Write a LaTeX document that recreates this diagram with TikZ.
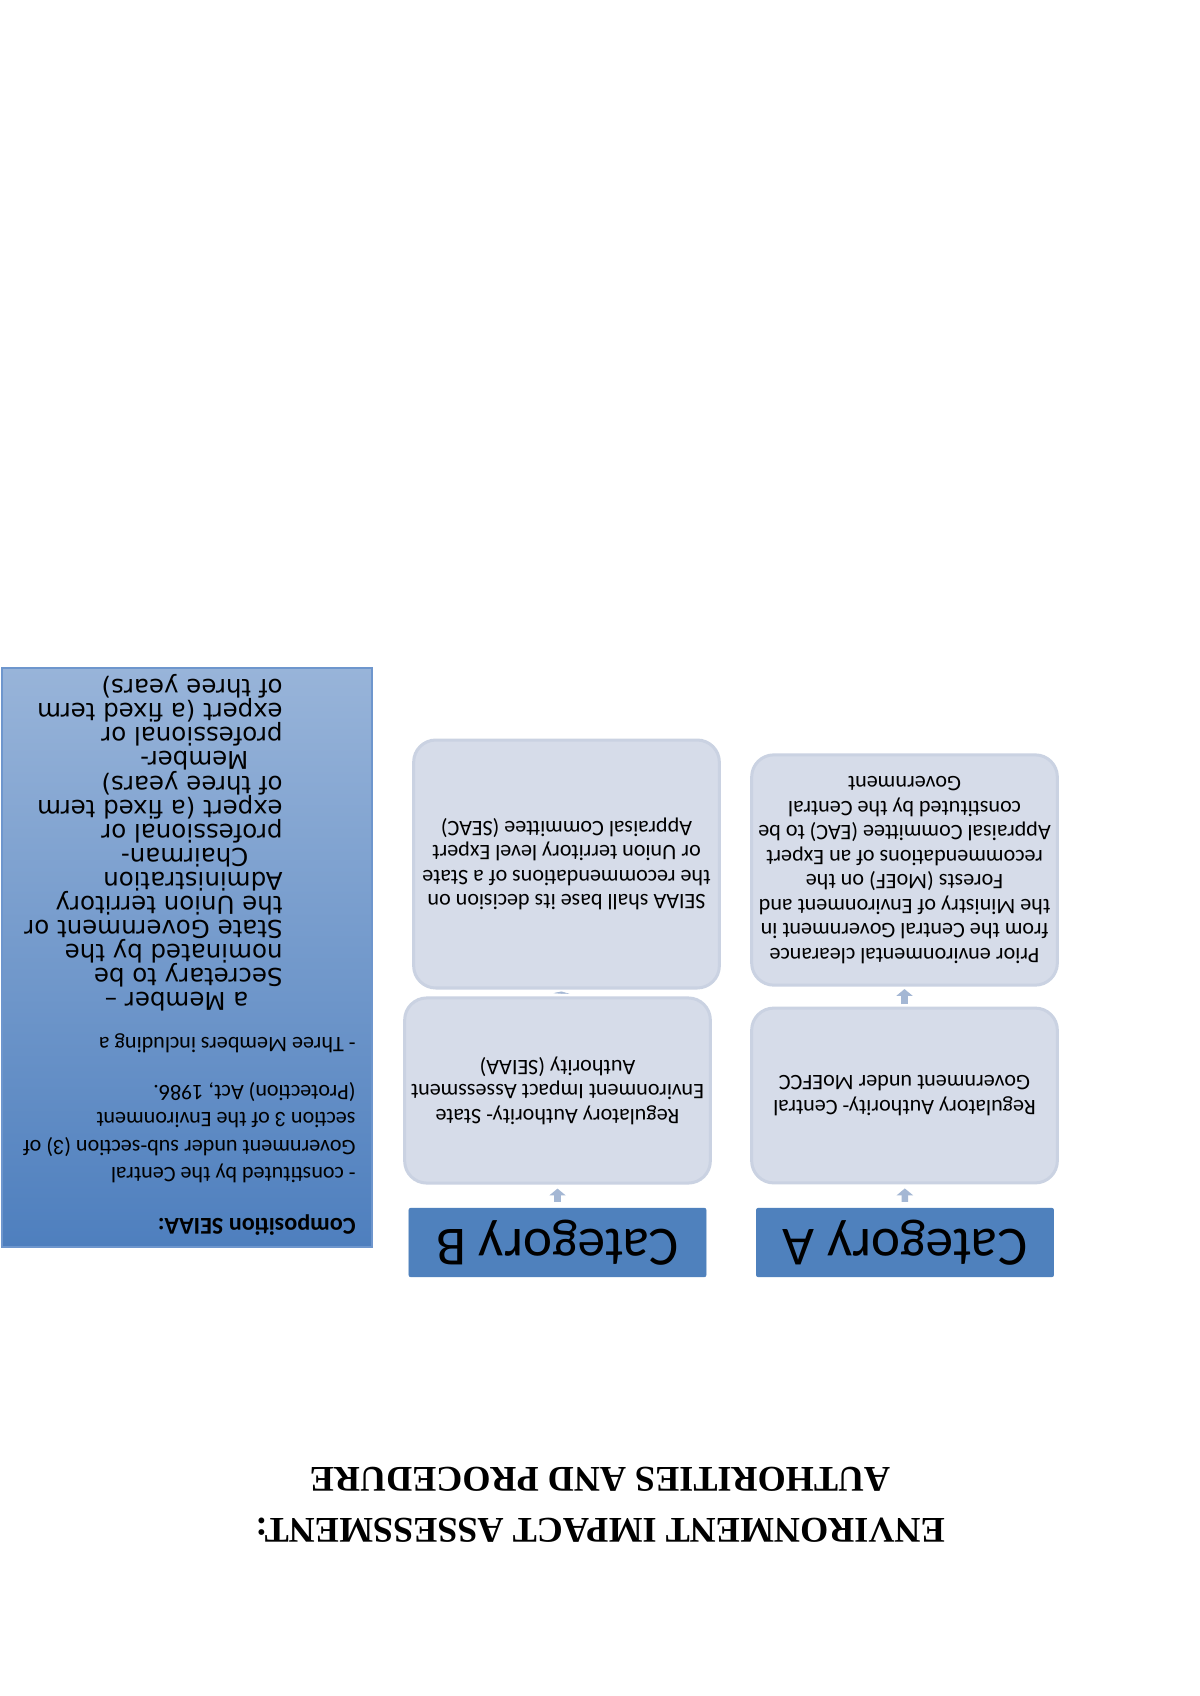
\documentclass[tikz,border=0pt]{standalone}
\usepackage{fontspec}
\usepackage{tikz}
\usetikzlibrary{arrows.meta}
\setmainfont{Carlito}
\newfontfamily\titleFont{Liberation Serif}
\newfontfamily\listFont{DejaVu Sans}
\definecolor{headerBlue}{RGB}{79,129,189}
\definecolor{boxFill}{RGB}{214,220,233}
\definecolor{boxLine}{RGB}{202,210,226}
\definecolor{arrowColor}{RGB}{164,183,212}
\definecolor{panelTop}{RGB}{152,180,217}
\definecolor{panelBottom}{RGB}{78,127,190}
\definecolor{panelLine}{RGB}{110,150,205}
\tikzstyle{sheet} = [x = .0175cm, y = -.0175cm, every node/.style={rotate=180}]
\tikzstyle{categoryStyle} = [fill=headerBlue, draw=headerBlue, rounded corners=1pt, minimum width=5.2cm, minimum height=1.2cm, inner sep=0pt, font=\fontsize{27.5}{32}\selectfont]
\tikzstyle{stepBox} = [fill=boxFill, draw=boxLine, line width=1.5pt, rounded corners=11pt, minimum width=5.35cm, inner sep=0pt, align=center, font=\fontsize{11}{12.2}\selectfont]
\tikzstyle{flowArrow} = [color=arrowColor, line width=3.2pt, -{Triangle[width=8pt, length=3.4pt]}, shorten <=3pt, shorten >=2pt]
\tikzstyle{shortArrow} = [flowArrow, shorten <=1.2pt, shorten >=1.2pt]
\tikzstyle{flatArrow} = [color=arrowColor, line width=3.2pt, -{Triangle[width=8pt, length=1pt]}, shorten <=1.6pt, shorten >=1pt]
\tikzstyle{panelText} = [anchor=west, inner sep=0pt, align=left]
\newcommand{\categoryBox}[4]{\node [categoryStyle] (#1) at (#2, #3) {#4};}
\newcommand{\stepNode}[5]{\node [stepBox, minimum height=#4cm] (#1) at (#2, #3) {#5};}
\newcommand{\upArrow}[2]{\draw [flowArrow] (#1) -- (#2);}

\begin{document}
\begin{tikzpicture}[sheet]
\useasboundingbox [fill=white] (0,0) rectangle (1200,1696);
\node [align=center, font=\titleFont\bfseries\fontsize{18}{25.3}\selectfont] (title) at (600, 1504.5) {ENVIRONMENT IMPACT ASSESSMENT:\\AUTHORITIES AND PROCEDURE};
\categoryBox{catA}{905}{1242.5}{Category A}
\categoryBox{catB}{557.5}{1242.5}{Category B}
\stepNode{regA}{904.5}{1095.5}{3.06}{Regulatory Authority- Central\\Government under MoEFCC}
\stepNode{regB}{557.5}{1090.5}{3.24}{Regulatory Authority- State\\Environment Impact Assessment\\Authority (SEIAA)}
\stepNode{clearanceA}{904.5}{870}{4.03}{Prior environmental clearance\\from the Central Government in\\the Ministry of Environment and\\Forests (MoEF) on the\\recommendations of an Expert\\Appraisal Committee (EAC) to be\\constituted by the Central\\Government}
\stepNode{decisionB}{566.5}{864}{4.34}{SEIAA shall base its decision on\\the recommendations of a State\\or Union territory level Expert\\Appraisal Committee (SEAC)}
\upArrow{catA}{regA}
\upArrow{catB}{regB}
\draw [shortArrow] (regA) -- (clearanceA);
\draw [flatArrow] (regB) -- (decisionB);
\shade [top color=panelTop, bottom color=panelBottom, draw=panelLine, line width=1.2pt] (2,668) rectangle (372,1247);
\node [panelText, font=\bfseries\fontsize{12}{14}\selectfont] (compHead) at (356, 1225) {Composition SEIAA:};
\node [panelText, font=\fontsize{11}{13.7}\selectfont] (compBody) at (356, 1132.5) {- constituted by the Central\\Government under sub-section (3) of\\section 3 of the Environment\\(Protection) Act, 1986.};
\node [panelText, font=\fontsize{11}{13.7}\selectfont] (compThree) at (356, 1043) {- Three Members including a};
\node [panelText, font=\listFont\fontsize{12.2}{12}\selectfont] (compList) at (283, 843) {\hspace*{17pt}a Member –\\Secretary to be\\nominated by the\\State Government or\\the Union territory\\Administration\\\hspace*{17pt}Chairman-\\professional or\\expert (a fixed term\\of three years)\\\hspace*{17pt}Member-\\professional or\\expert (a fixed term\\of three years)};
\end{tikzpicture}
\end{document}
